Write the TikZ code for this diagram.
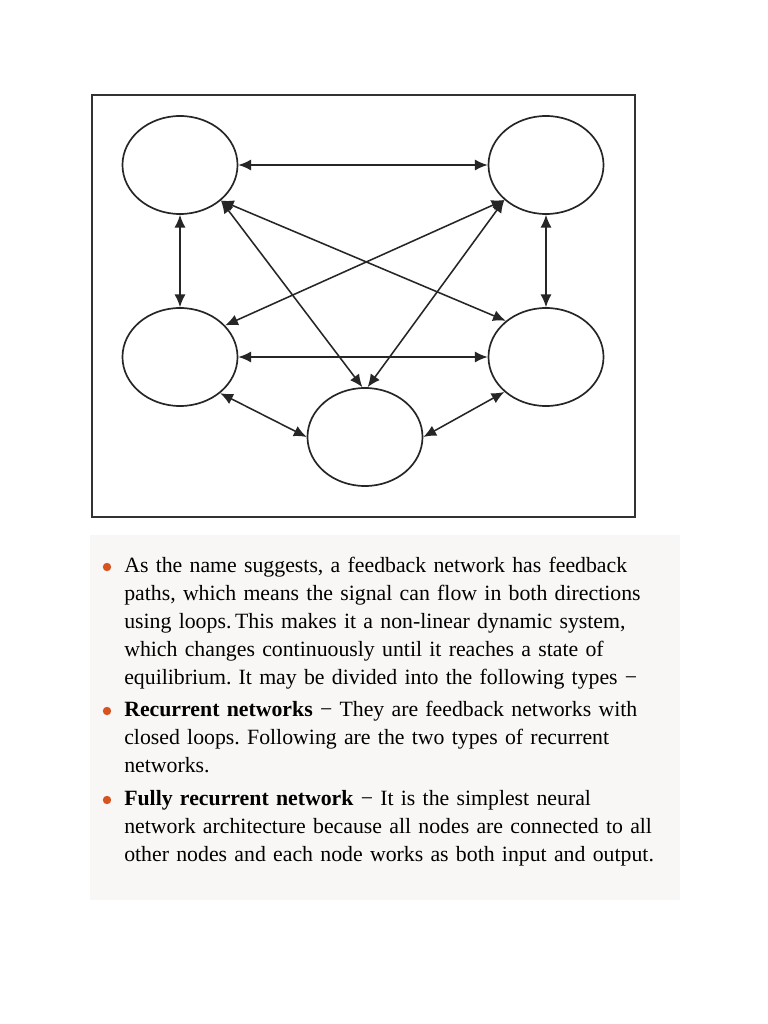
\documentclass[tikz,border=0pt]{standalone}
\usepackage{fontspec}
\setmainfont{Liberation Serif}
\usepackage{tikz}
\usetikzlibrary{shapes.geometric, arrows.meta, positioning}

\definecolor{paper}{RGB}{249,247,245}
\definecolor{dot}{RGB}{214,84,30}
\definecolor{frame}{RGB}{50,50,50}
\frenchspacing

\begin{document}
\begin{tikzpicture}[
    x=0.025cm, y=-0.025cm,
    unit/.style={ellipse, draw=black!85, line width=1.2pt, minimum width=2.875cm, minimum height=2.45cm, inner sep=0pt},
    link/.style={{Latex[length=3.2mm,width=2.8mm]}-{Latex[length=3.2mm,width=2.8mm]}, line width=1.1pt, black!85},
    bullet/.style={circle, fill=dot, inner sep=0pt, minimum size=0.21cm},
    para/.style={anchor=north west, inner sep=0pt, text width=14.2cm, align=left, font=\fontsize{15.5}{19.9}\selectfont}
]
\useasboundingbox (0,0) rectangle (768,1024);
\fill[paper] (90,535) rectangle (680,900);
\draw[frame, line width=1.4pt, fill=white] (92,95) rectangle (635,517);

% network
\node[unit] (tl) at (180,165) {};
\node[unit] (tr) at (546,165) {};
\node[unit] (ml) at (180,357) {};
\node[unit] (mr) at (546,357) {};
\node[unit] (bo) at (365,437) {};

\draw[link] (tl.east) -- (tr.west);
\draw[link] (ml.east) -- (mr.west);
\draw[link] (tl.south) -- (ml.north);
\draw[link] (tr.south) -- (mr.north);
\draw[link] (tl.-41) -- (mr.138);
\draw[link] (tr.-140) -- (ml.35);
\draw[link] (tl.-41) -- (bo.93);
\draw[link] (tr.-140) -- (bo.87);
\draw[link] (ml.-42) -- (bo.west);
\draw[link] (mr.-140) -- (bo.east);

% text
\node[bullet] (b1) at (107,567) {};
\node[para] (t1) at (124,557) {As the name suggests, a feedback network has feedback\\
paths, which means the signal can flow in both directions\\
using loops.\,This makes it a non-linear dynamic system,\\
which changes continuously until it reaches a state of\\
equilibrium. It may be divided into the following types −};
\node[bullet] (b2) at (107,711) {};
\node[para] (t2) at (124,701) {\textbf{Recurrent networks} − They are feedback networks with\\
closed loops. Following are the two types of recurrent\\
networks.};
\node[bullet] (b3) at (107,800) {};
\node[para] (t3) at (124,790) {\textbf{Fully recurrent network} − It is the simplest neural\\
network architecture because all nodes are connected to all\\
other nodes and each node works as both input and output.};
\end{tikzpicture}
\end{document}
